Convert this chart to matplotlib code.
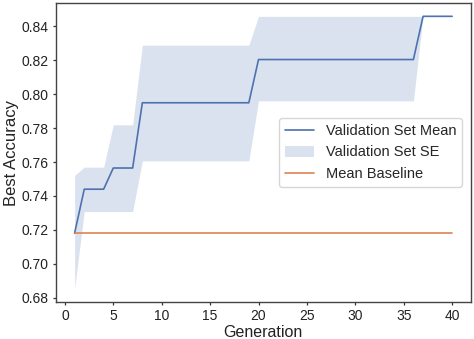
import matplotlib
matplotlib.use("Agg")
import matplotlib.pyplot as plt
import seaborn as sns
import numpy as np

generations = list(range(1, 41))
mean_acc = [0.718] + [0.744]*3 + [0.7565]*3 + [0.795]*12 + [0.8205]*17 + [0.846]*4
se_upper = [0.7522] + [0.757]*3 + [0.782]*3 + [0.829]*12 + [0.846]*17 + [0.846]*4
se_lower = [0.6853] + [0.7308]*6 + [0.7607]*12 + [0.7961]*17 + [0.846]*4
baseline = [0.718]*40

sns.set_theme(style="ticks")
plt.rcParams['font.family'] = ['Liberation Sans', 'DejaVu Sans']

fig = plt.figure(figsize=(4.74, 3.39), dpi=100)
ax = fig.add_axes([55.7/474, 1-302.3/339, (471-55.7)/474, (302.3-2.7)/339])

blue = sns.color_palette("deep")[0]
orange = sns.color_palette("deep")[1]
ax.plot(generations, mean_acc, color=blue, lw=1.2, label="Validation Set Mean")
ax.fill_between(generations, se_lower, se_upper, color=blue, alpha=0.2, lw=0, label="Validation Set SE")
ax.plot(generations, baseline, color=orange, lw=1.2, label="Mean Baseline")

ax.set_xticks(range(0, 41, 5))
ax.set_yticks(np.round(np.arange(0.68, 0.841, 0.02), 2))
ax.yaxis.set_major_formatter(matplotlib.ticker.FormatStrFormatter('%.2f'))
ax.tick_params(labelsize=10, length=2.5, pad=2.5, width=0.9, colors='#333333', labelcolor='#222222')
ax.set_xlabel("Generation", fontsize=11.5, color='#222222', labelpad=1)
ax.set_ylabel("Best Accuracy", fontsize=12, color='#222222', labelpad=2)
for s in ax.spines.values():
    s.set_color('#444444')
    s.set_linewidth(1.0)
ax.legend(loc="center right", fontsize=10.5, frameon=True, borderaxespad=0.6)
fig.savefig("out.png", dpi=100)
